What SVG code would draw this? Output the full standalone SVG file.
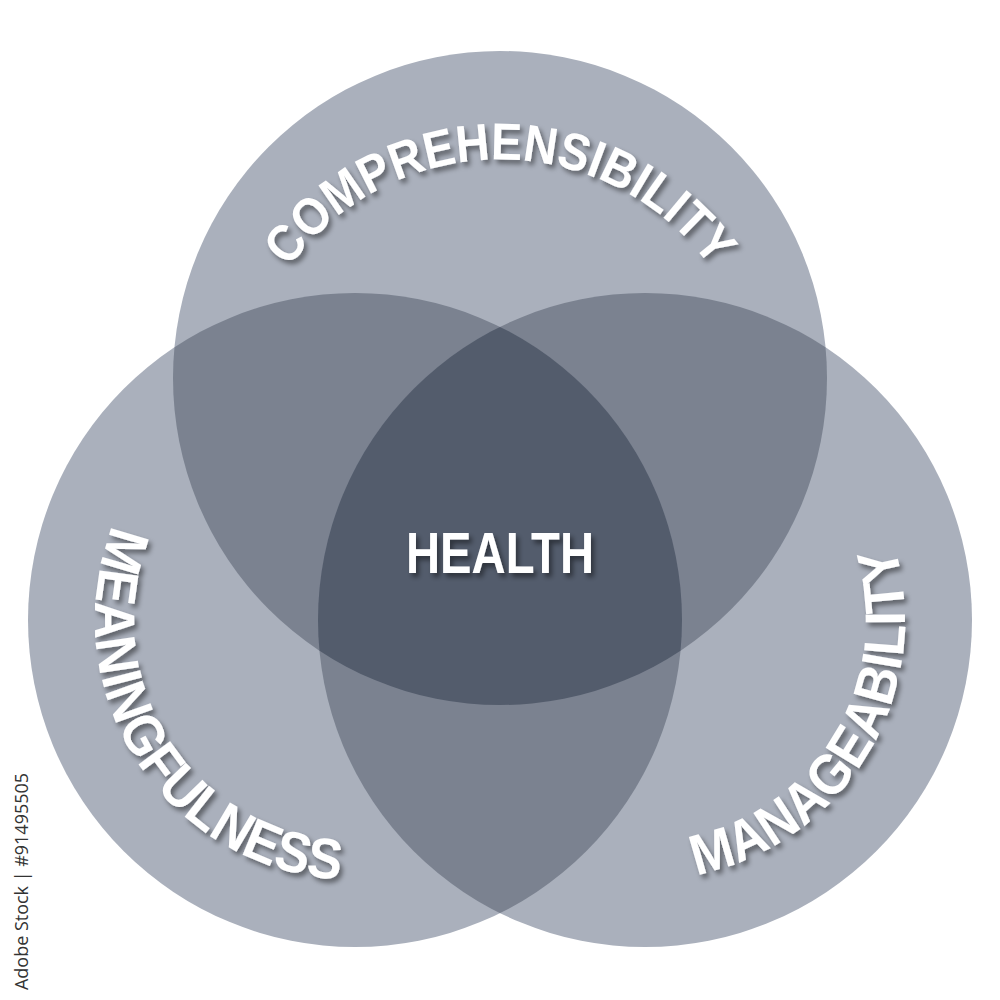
<svg xmlns="http://www.w3.org/2000/svg" width="1000" height="1000" viewBox="0 0 1000 1000">
<defs>
<style>
.ring{fill:#aab0bc}
.pair{fill:#7b8290}
.core{fill:#535c6c}
.lbl{font-family:"Liberation Sans",Arial,sans-serif;font-weight:bold;fill:#ffffff;filter:url(#shadow)}
.mark{font-family:"Open Sans","Liberation Sans",sans-serif;fill:#333333}
</style>
<filter id="shadow" x="-20%" y="-20%" width="140%" height="140%">
<feDropShadow dx="3" dy="4" stdDeviation="2.5" flood-color="#000000" flood-opacity="0.45"/>
</filter>
<clipPath id="cT"><circle cx="500" cy="378" r="327"/></clipPath>
<clipPath id="cL"><circle cx="355" cy="620" r="327"/></clipPath>
<clipPath id="cR"><circle cx="645" cy="620" r="327"/></clipPath>
<path id="pT" d="M 244 465.1 A 260 260 0 1 1 756 465.1"/>
<path id="pL" d="M 254.7 380.1 A 260 260 0 1 0 531.3 811.1"/>
<path id="pR" d="M 474.4 816.2 A 260 260 0 1 0 738.2 377.3"/>
</defs>
<rect width="1000" height="1000" fill="#ffffff"/>
<g id="circle-comprehensibility"><circle class="ring" cx="500" cy="378" r="327"/></g>
<g id="circle-meaningfulness"><circle class="ring" cx="355" cy="620" r="327"/></g>
<g id="circle-manageability"><circle class="ring" cx="645" cy="620" r="327"/></g>
<g id="overlaps">
<circle class="pair" cx="355" cy="620" r="327" clip-path="url(#cT)"/>
<circle class="pair" cx="645" cy="620" r="327" clip-path="url(#cT)"/>
<circle class="pair" cx="645" cy="620" r="327" clip-path="url(#cL)"/>
<g clip-path="url(#cT)"><circle class="core" cx="645" cy="620" r="327" clip-path="url(#cL)"/></g>
</g>
<g id="label-comprehensibility">
<text class="lbl" font-size="52"><textPath href="#pT" startOffset="50%" text-anchor="middle" textLength="492" lengthAdjust="spacingAndGlyphs">COMPREHENSIBILITY</textPath></text>
</g>
<g id="label-meaningfulness">
<text class="lbl" font-size="57"><textPath href="#pL" startOffset="50%" text-anchor="middle" textLength="490" lengthAdjust="spacingAndGlyphs">MEANINGFULNESS</textPath></text>
</g>
<g id="label-manageability">
<text class="lbl" font-size="57"><textPath href="#pR" startOffset="50%" text-anchor="middle" textLength="432" lengthAdjust="spacingAndGlyphs">MANAGEABILITY</textPath></text>
</g>
<g id="node-health">
<text class="lbl" x="500" y="573" font-size="57.5" text-anchor="middle" textLength="188" lengthAdjust="spacingAndGlyphs">HEALTH</text>
</g>
<g id="stock-id">
<text class="mark" transform="translate(28,990) rotate(-90)" font-size="17.5" textLength="217" lengthAdjust="spacingAndGlyphs">Adobe Stock | #91495505</text>
</g>
</svg>
